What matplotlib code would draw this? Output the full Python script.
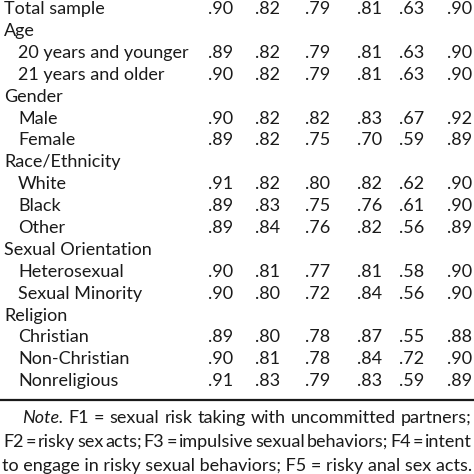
import matplotlib
matplotlib.use("Agg")
import matplotlib.pyplot as plt
from matplotlib.lines import Line2D

labels = ["Total sample", "Age", "20 years and younger", "21 years and older", "Gender",
          "Male", "Female", "Race/Ethnicity", "White", "Black", "Other",
          "Sexual Orientation", "Heterosexual", "Sexual Minority", "Religion",
          "Christian", "Non-Christian", "Nonreligious"]
indent = [0, 0, 1, 1, 0, 1, 1, 0, 1, 1, 1, 0, 1, 1, 0, 1, 1, 1]
values = [
    [".90", ".82", ".79", ".81", ".63", ".90"],
    None,
    [".89", ".82", ".79", ".81", ".63", ".90"],
    [".90", ".82", ".79", ".81", ".63", ".90"],
    None,
    [".90", ".82", ".82", ".83", ".67", ".92"],
    [".89", ".82", ".75", ".70", ".59", ".89"],
    None,
    [".91", ".82", ".80", ".82", ".62", ".90"],
    [".89", ".83", ".75", ".76", ".61", ".90"],
    [".89", ".84", ".76", ".82", ".56", ".89"],
    None,
    [".90", ".81", ".77", ".81", ".58", ".90"],
    [".90", ".80", ".72", ".84", ".56", ".90"],
    None,
    [".89", ".80", ".78", ".87", ".55", ".88"],
    [".90", ".81", ".78", ".84", ".72", ".90"],
    [".91", ".83", ".79", ".83", ".59", ".89"],
]
note_lines = [
    ["Note.", "F1", "=", "sexual", "risk", "taking", "with", "uncommitted", "partners;"],
    ["F2", "=", "risky", "sex", "acts;", "F3", "=", "impulsive", "sexual", "behaviors;", "F4", "=", "intent"],
]
note_last = "to engage in risky sexual behaviors; F5 = risky anal sex acts."

W = H = 474
fig = plt.figure(figsize=(4.74, 4.74), dpi=100)
ax = fig.add_axes([0, 0, 1, 1])
ax.set_xlim(0, W)
ax.set_ylim(H, 0)
ax.axis("off")
font = dict(family="Lato", fontsize=13, color="#1a1a1a")

col_right = [233, 280, 330, 382, 424, 472]
y0, dy = 9, 21.9
for i, lab in enumerate(labels):
    y = y0 + i * dy
    ax.text(4 + 14 * indent[i], y, lab, va="center", ha="left", **font)
    if values[i]:
        for x, v in zip(col_right, values[i]):
            ax.text(x, y, v, va="center", ha="right", **font)

ax.add_line(Line2D([0, W], [400, 400], color="#1a1a1a", lw=1.6))

fig.canvas.draw()
r = fig.canvas.get_renderer()


def justify(words, y, x0, x1, first_italic=False):
    arts = []
    for k, w in enumerate(words):
        st = "italic" if (first_italic and k == 0) else "normal"
        arts.append(ax.text(0, y, w, va="center", ha="left", style=st, **font))
    widths = [a.get_window_extent(r).width * W / fig.bbox.width for a in arts]
    gap = (x1 - x0 - sum(widths)) / (len(words) - 1)
    x = x0
    for a, w in zip(arts, widths):
        a.set_x(x)
        x += w + gap


justify(note_lines[0], 418, 22, 472, first_italic=True)
justify(note_lines[1], 442, 3, 472)
ax.text(2, 466, note_last, va="center", ha="left", **font)

fig.savefig("out.png", dpi=100)
